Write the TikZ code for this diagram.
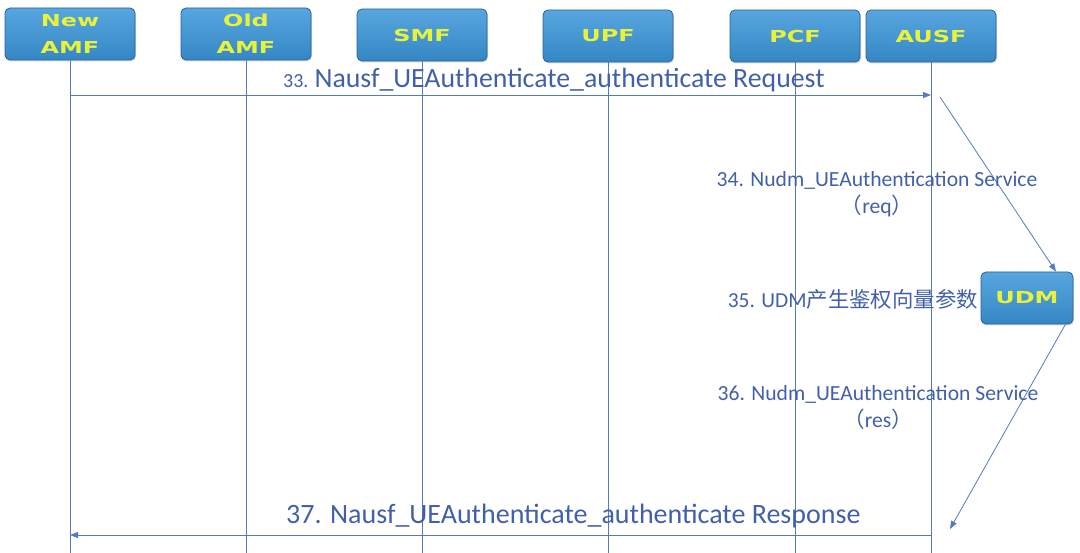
\documentclass[tikz,border=0pt]{standalone}
\usepackage{fontspec}
\setmainfont{Carlito}
\newfontfamily\cjk{Noto Sans CJK SC}
\newfontfamily\boxfont[FakeStretch=1.45]{DejaVu Sans}
\usepackage{tikz}
\usetikzlibrary{arrows.meta, positioning, shadows, calc}

\definecolor{nfblue}{RGB}{58,150,218}
\definecolor{nfedge}{RGB}{40,100,160}
\definecolor{nftext}{RGB}{232,242,58}
\definecolor{msgline}{RGB}{84,122,196}
\definecolor{msgtext}{RGB}{66,96,170}

\begin{document}
\begin{tikzpicture}[
    x=1pt, y=-1pt,
    nf/.style={rectangle, rounded corners=5pt, draw=nfedge, line width=0.8pt,
        top color=nfblue!85!white, bottom color=nfblue!90!black,
        minimum width=130pt, minimum height=52pt, align=center,
        text=nftext, font=\boxfont\bfseries\fontsize{16.5}{27}\selectfont,
        drop shadow={opacity=0.35, shadow xshift=1pt, shadow yshift=-1.5pt}},
    life/.style={draw=msgline, line width=0.7pt},
    msg/.style={draw=msgline, line width=0.8pt, -{Triangle[length=8pt,width=6pt]}},
    lbl/.style={text=msgtext, inner sep=0pt}
]
\useasboundingbox (0,0) rectangle (1080,553);

% Network functions
\node[nf] (namf) at (70,34) {New\\AMF};
\node[nf] (oamf) at (246,34) {Old\\AMF};
\node[nf] (smf) at (422,35) {SMF};
\node[nf] (upf) at (608,36) {UPF};
\node[nf] (pcf) at (795,36) {PCF};
\node[nf] (ausf) at (931,36) {AUSF};
\node[nf, minimum width=92pt] (udm) at (1027,298) {UDM};

% Lifelines
\coordinate (bottom) at (0,553);
\foreach \n in {namf,oamf,smf,upf,pcf,ausf}
    \draw[life] (\n.south) -- (\n.south |- bottom);

% Message rows
\coordinate (r33) at (0,95);
\coordinate (r37) at (0,535);
\coordinate (a34) at (940,97);
\coordinate (a36) at (950,529);

% Messages
\draw[msg] (namf |- r33) -- (ausf |- r33);
\draw[msg] (a34) -- ([xshift=29pt]udm.north);
\draw[msg] ([xshift=-8pt]udm.south east) -- (a36);
\draw[msg] (ausf |- r37) -- (namf |- r37);

% Labels
\node[lbl, anchor=base west] (l33) at (283,88)
    {\fontsize{20}{22}\selectfont 33. \fontsize{27.8}{30}\selectfont Nausf\_UEAuthenticate\_authenticate Request};
\node[lbl, align=center, font=\fontsize{21.6}{27}\selectfont] (l34) at (877,194)
    {34. Nudm\_UEAuthentication Service\\{\cjk （}req{\cjk ）}};
\node[lbl, anchor=base east, font=\fontsize{21.4}{24}\selectfont] (l35) at (978,308)
    {35. UDM{\cjk 产生鉴权向量参数}};
\node[lbl, align=center, font=\fontsize{21.6}{27}\selectfont] (l36) at (878,408)
    {36. Nudm\_UEAuthentication Service\\{\cjk （}res{\cjk ）}};
\node[lbl, anchor=base west, font=\fontsize{28}{30}\selectfont] (l37) at (286,523)
    {37. Nausf\_UEAuthenticate\_authenticate Response};

\end{tikzpicture}
\end{document}
